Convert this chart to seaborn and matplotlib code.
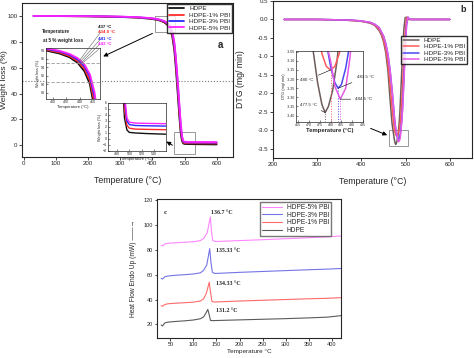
import numpy as np
import matplotlib
matplotlib.use("Agg")
import matplotlib.pyplot as plt
import seaborn as sns
from matplotlib.patches import Rectangle

# ---------------- data ----------------
series_names = ["HDPE", "HDPE-1% PBI", "HDPE-3% PBI", "HDPE-5% PBI"]

# (a) TGA weight loss
tga_temp = [30, 100, 200, 300, 350, 390, 410, 425, 437, 447, 455, 462, 468, 472,
            476, 480, 484, 488, 492, 496, 500, 510, 530, 560, 600]
tga_hdpe = [100, 99.9, 99.7, 99.2, 98.7, 97.9, 97.2, 96.3, 95.0, 93.0, 90.0, 84, 74, 63,
            50, 36, 22, 10, 3.5, 1.5, 1.1, 1.0, 0.9, 0.8, 0.7]
tga_pbi1 = [100, 99.9, 99.75, 99.3, 98.85, 98.1, 97.45, 96.6, 95.4, 93.6, 90.9, 85.5, 76.5, 66,
            53.5, 40, 26, 13, 5, 2.3, 1.8, 1.65, 1.6, 1.55, 1.5]
tga_pbi3 = [100, 99.95, 99.8, 99.4, 99.0, 98.3, 97.7, 96.9, 95.8, 94.2, 91.8, 87, 79, 69,
            57, 44, 30, 16, 6.5, 3.0, 2.4, 2.25, 2.2, 2.15, 2.1]
tga_pbi5 = [100, 99.95, 99.85, 99.5, 99.1, 98.45, 97.85, 97.1, 96.1, 94.6, 92.3, 88, 80.5, 71,
            59.5, 46.5, 32, 18, 7.5, 3.5, 2.8, 2.65, 2.6, 2.55, 2.5]
t5_labels = ["437 °C", "434.8 °C", "441 °C", "443 °C"]

# (b) DTG
dtg_t_hdpe = [225, 300, 350, 380, 400, 420, 430, 440, 445, 450, 455, 460, 465, 469, 472, 474,
              476, 477.5, 479, 481, 483, 485, 487, 490, 493, 496, 499, 502, 505, 510, 600]
dtg_hdpe = [0, 0, -0.01, -0.03, -0.05, -0.1, -0.16, -0.3, -0.42, -0.6, -0.9, -1.4, -2.2, -2.8,
            -3.05, -3.22, -3.34, -3.383, -3.35, -3.26, -3.1, -2.85, -2.5, -1.7, -0.9, -0.25,
            0.05, 0.06, 0.0, 0.0, 0.0]
dtg_t_pbi1 = [225, 300, 350, 380, 400, 420, 430, 440, 445, 450, 455, 460, 465, 470, 474, 476,
              478, 480, 482, 484, 486, 488, 490, 493, 496, 499, 502, 505, 508, 513, 600]
dtg_pbi1 = [0, 0, -0.01, -0.03, -0.05, -0.09, -0.15, -0.27, -0.38, -0.55, -0.8, -1.2, -1.8, -2.5,
            -2.95, -3.06, -3.13, -3.15, -3.13, -3.06, -2.95, -2.75, -2.45, -1.8, -1.0, -0.3,
            0.04, 0.06, 0.0, 0.0, 0.0]
dtg_t_pbi3 = [225, 300, 350, 380, 400, 420, 430, 440, 450, 455, 460, 465, 470, 475, 478, 480,
              482, 483.5, 485, 487, 489, 491, 493, 496, 499, 502, 505, 508, 513, 600]
dtg_pbi3 = [0, 0, -0.01, -0.02, -0.04, -0.08, -0.13, -0.22, -0.45, -0.65, -0.95, -1.4, -2.0,
            -2.7, -3.0, -3.13, -3.22, -3.25, -3.23, -3.14, -3.0, -2.75, -2.4, -1.6, -0.8,
            -0.15, 0.06, 0.02, 0.0, 0.0]
dtg_t_pbi5 = [225, 300, 350, 380, 400, 420, 430, 440, 450, 455, 460, 465, 470, 475, 478, 480,
              482, 484.5, 487, 489, 491, 493, 496, 499, 502, 505, 508, 513, 600]
dtg_pbi5 = [0, 0, -0.01, -0.02, -0.04, -0.08, -0.13, -0.22, -0.45, -0.65, -0.95, -1.4, -2.0,
            -2.7, -3.0, -3.1, -3.24, -3.31, -3.25, -3.08, -2.8, -2.45, -1.7, -0.85, -0.15,
            0.06, 0.02, 0.0, 0.0]
dtg_peak_labels = ["477.5 °C", "480 °C", "483.5 °C", "484.5 °C"]

# (c) DSC
dsc_t_hdpe = [30, 33, 38, 45, 60, 80, 100, 115, 122, 127, 131.2, 134, 137, 142, 160, 200, 250,
              300, 350, 390, 420]
dsc_hdpe = [19.5, 18.7, 21.2, 21.8, 22.3, 22.8, 23.5, 24.5, 26, 29, 32, 28, 23.2, 23.0, 23.2,
            23.6, 24.1, 24.6, 25.2, 25.8, 27.0]
dsc_t_pbi1 = [30, 33, 38, 45, 60, 80, 100, 115, 122, 128, 134.33, 137, 140, 145, 160, 200, 250,
              300, 350, 390, 420]
dsc_pbi1 = [35.0, 34.6, 36.0, 36.6, 37.0, 37.4, 37.9, 38.8, 40.5, 45, 54, 46, 38.5, 38.0, 38.2,
            38.8, 39.4, 40.0, 40.6, 41.0, 41.5]
dsc_t_pbi3 = [30, 33, 38, 45, 60, 80, 100, 115, 122, 129, 135.33, 138, 141, 146, 160, 200, 250,
              300, 350, 390, 420]
dsc_pbi3 = [57.0, 56.5, 58.3, 59.0, 59.5, 60.0, 60.6, 61.5, 63.5, 68, 81, 70, 62, 61.0, 61.2,
            61.9, 62.6, 63.3, 64.0, 64.5, 65.0]
dsc_t_pbi5 = [30, 33, 38, 45, 60, 80, 100, 115, 123, 130, 136.7, 139, 142, 147, 160, 200, 250,
              300, 350, 390, 420]
dsc_pbi5 = [83.8, 83.2, 84.8, 85.3, 85.7, 86.1, 86.6, 87.5, 89.5, 94, 106.5, 95, 87.5, 86.8,
            86.9, 87.5, 88.2, 89.0, 89.8, 90.5, 91.2]
dsc_peak_labels = ["131.2 °C", "134.33 °C", "135.33 °C", "136.7 °C"]

colors_a = ["#111111", "#ff2a2a", "#2a2aff", "#ff22ff"]
colors_b = ["#6e5c5c", "#ff5a5a", "#4a4af0", "#e65ae6"]
colors_c = ["#5a5a5a", "#ff6a6a", "#7474e6", "#ff86ff"]

sns.set_theme(style="ticks")
plt.rcParams["font.family"] = ["Liberation Sans", "DejaVu Sans"]
plt.rcParams["axes.linewidth"] = 0.8

fig = plt.figure(figsize=(4.74, 3.58), dpi=100)
W, H = 474, 358


def box(l, t, r, b):
    return [l / W, 1 - b / H, (r - l) / W, (b - t) / H]


def small(ax, size=2.6):
    ax.tick_params(labelsize=size, length=1.2, width=0.4, pad=0.8, direction="in")
    for s in ax.spines.values():
        s.set_linewidth(0.5)


tga = [tga_hdpe, tga_pbi1, tga_pbi3, tga_pbi5]

# ---------------- panel a ----------------
ax_a = fig.add_axes(box(22, 3, 233, 157))
for name, w, c in zip(series_names, tga, colors_a):
    sns.lineplot(x=tga_temp, y=w, color=c, lw=1.3, ax=ax_a, label=name)
ax_a.axhline(50, color="#777777", ls=":", lw=0.8)
ax_a.set_xlim(-6, 651)
ax_a.set_ylim(-9, 110)
ax_a.set_xticks(range(0, 601, 100))
ax_a.set_yticks(range(0, 101, 20))
ax_a.tick_params(labelsize=4.4, length=2, width=0.6, pad=1.2)
ax_a.set_xlabel("Temperature (°C)", fontsize=6.3)
ax_a.set_ylabel("Weight loss (%)", fontsize=6.0)
ax_a.xaxis.set_label_coords(0.5, -0.125)
ax_a.yaxis.set_label_coords(-0.068, 0.5)
ax_a.legend(loc="upper right", fontsize=4.6, frameon=True, fancybox=False, edgecolor="black",
            handlelength=2.4, borderaxespad=0.15, labelspacing=0.15, borderpad=0.3)
ax_a.text(605, 75, "a", fontsize=7, fontweight="bold")
ax_a.add_patch(Rectangle((408, 87.7), 62, 12.5, fill=False, ec="#888888", lw=0.6))
ax_a.add_patch(Rectangle((467, -6.4), 66, 16.4, fill=False, ec="#888888", lw=0.6))
ax_a.annotate("", xy=(239, 67.8), xytext=(408, 87.4),
              arrowprops=dict(arrowstyle="-|>", color="black", lw=0.7, mutation_scale=6))
ax_a.annotate("", xy=(436, 4), xytext=(470, -1),
              arrowprops=dict(arrowstyle="-|>", color="black", lw=0.7, mutation_scale=6))
ax_a.text(100, 87, "Temperature", fontsize=3.3, ha="center", fontweight="bold")
ax_a.text(123, 80, "at 5 % weight loss", fontsize=3.3, ha="center", fontweight="bold")
ax_a.text(137, 49.5, "Residue formed", fontsize=3.6, ha="center", fontweight="bold")

# inset a1
ax_a1 = fig.add_axes(box(46, 48, 100, 99))
ax_a1.set_facecolor("white")
for w, c in zip(tga, colors_a):
    sns.lineplot(x=tga_temp, y=w, color=c, lw=1.3, ax=ax_a1)
ax_a1.axhline(95, color="#999999", ls="--", lw=0.6, dashes=(4, 2))
ax_a1.axhline(90.4, color="#999999", ls="--", lw=0.6, dashes=(4, 2))
ax_a1.set_xlim(390, 470)
ax_a1.set_ylim(86.5, 98.5)
ax_a1.set_xticks([400, 420, 440, 460])
ax_a1.set_yticks([88, 90, 92, 94, 96, 98])
small(ax_a1)
ax_a1.set_xlabel("Temperature (°C)", fontsize=3, labelpad=0.5)
ax_a1.set_ylabel("Weight loss (%)", fontsize=2.8, labelpad=0.5)
label_y = [91.8, 87.4, 82.3, 78.2]
for lab, w, c, ly in zip(t5_labels, tga, colors_a, label_y):
    t5 = np.interp(95, w[::-1], tga_temp[::-1])
    ax_a1.annotate(lab, xy=(t5, 95), xycoords="data", xytext=(231, ly),
                   textcoords=ax_a.transData, fontsize=3.2, color=c, fontweight="bold",
                   va="center", annotation_clip=False,
                   arrowprops=dict(arrowstyle="-", color="#666666", lw=0.4,
                                   shrinkA=0, shrinkB=0))

# inset a2
ax_a2 = fig.add_axes(box(108, 103, 166, 151))
ax_a2.set_facecolor("white")
for w, c in zip(tga, colors_a):
    sns.lineplot(x=tga_temp, y=w, color=c, lw=1.0, ax=ax_a2)
ax_a2.set_xlim(465, 560)
ax_a2.set_ylim(-2, 6)
ax_a2.set_xticks([480, 500, 520, 540])
ax_a2.set_yticks(range(-2, 7))
small(ax_a2)
ax_a2.set_xlabel("Temperature (°C)", fontsize=3, labelpad=0.5)
ax_a2.set_ylabel("Weight loss (%)", fontsize=2.8, labelpad=0.5)

# ---------------- panel b ----------------
dtg_t = [dtg_t_hdpe, dtg_t_pbi1, dtg_t_pbi3, dtg_t_pbi5]
dtg = [dtg_hdpe, dtg_pbi1, dtg_pbi3, dtg_pbi5]

ax_b = fig.add_axes(box(273, 1, 472, 158))
for name, t, d, c in zip(series_names, dtg_t, dtg, colors_b):
    sns.lineplot(x=t, y=d, color=c, lw=1.1, ax=ax_b, label=name)
ax_b.set_xlim(200, 650)
ax_b.set_ylim(-3.75, 0.5)
ax_b.set_xticks(range(200, 601, 100))
ax_b.set_yticks(np.arange(-3.5, 0.51, 0.5))
ax_b.set_yticklabels([f"{v:.1f}" for v in np.arange(-3.5, 0.51, 0.5)])
ax_b.tick_params(labelsize=4.4, length=2, width=0.6, pad=1.2)
ax_b.set_xlabel("Temperature (°C)", fontsize=6.3)
ax_b.set_ylabel("DTG (mg/ min)", fontsize=6.3)
ax_b.xaxis.set_label_coords(0.5, -0.12)
ax_b.yaxis.set_label_coords(-0.14, 0.5)
ax_b.legend(loc="upper right", bbox_to_anchor=(0.99, 0.80), fontsize=4.6, frameon=True,
            fancybox=False, edgecolor="black", handlelength=2.4, labelspacing=0.15,
            borderpad=0.3)
ax_b.text(624, 0.2, "b", fontsize=6.5, fontweight="bold")
ax_b.add_patch(Rectangle((462, -3.43), 43, 0.43, fill=False, ec="#888888", lw=0.6))
ax_b.annotate("", xy=(464, -3.16), xytext=(415, -2.92),
              arrowprops=dict(arrowstyle="-|>", color="black", lw=0.7, mutation_scale=6))

# inset b
ax_b1 = fig.add_axes(box(296, 51, 363, 122))
ax_b1.set_facecolor("white")
ylo, yhi = -3.435, -3.046
for t, d, c in zip(dtg_t, dtg, colors_b):
    sns.lineplot(x=t, y=d, color=c, lw=1.1, ax=ax_b1)
    k = int(np.argmin(d))
    ax_b1.vlines(t[k], ylo, d[k], colors=c, linestyles=":", lw=0.7)
ax_b1.set_xlim(464, 495)
ax_b1.set_ylim(ylo, yhi)
ax_b1.set_xticks(range(465, 496, 5))
ax_b1.set_yticks(np.arange(-3.40, -3.04, 0.05))
ax_b1.set_yticklabels([f"{v:.2f}" for v in np.arange(-3.40, -3.04, 0.05)])
small(ax_b1, 2.6)
ax_b1.set_xlabel("Temperature (°C)", fontsize=4.2, labelpad=0.8, fontweight="bold")
ax_b1.set_ylabel("DTG (mg/ min)", fontsize=2.8, labelpad=0.5)
text_pos = [(466, -3.34), (466, -3.205), (492, -3.19), (491.5, -3.31)]
for lab, t, d, (tx, ty) in zip(dtg_peak_labels, dtg_t, dtg, text_pos):
    k = int(np.argmin(d))
    ax_b1.annotate(lab, xy=(t[k], d[k]), xytext=(tx, ty), fontsize=3.2,
                   ha="left", va="center", annotation_clip=False,
                   arrowprops=dict(arrowstyle="-", color="black", lw=0.4,
                                   shrinkA=1, shrinkB=0))

# ---------------- panel c ----------------
dsc_t = [dsc_t_hdpe, dsc_t_pbi1, dsc_t_pbi3, dsc_t_pbi5]
dsc = [dsc_hdpe, dsc_pbi1, dsc_pbi3, dsc_pbi5]

ax_c = fig.add_axes(box(157, 199, 341, 338))
for name, t, d, c in zip(series_names, dsc_t, dsc, colors_c):
    sns.lineplot(x=t, y=d, color=c, lw=0.8, ax=ax_c, label=name)
ax_c.set_xlim(21, 420)
ax_c.set_ylim(9, 121)
ax_c.set_xticks(range(50, 401, 50))
ax_c.set_yticks(range(20, 121, 20))
ax_c.tick_params(labelsize=4.0, length=1.8, width=0.6, pad=1.2)
ax_c.set_xlabel("Temperature °C", fontsize=4.6)
ax_c.set_ylabel("Heat Flow Endo Up (mW) ——→", fontsize=4.8)
ax_c.xaxis.set_label_coords(0.5, -0.08)
ax_c.yaxis.set_label_coords(-0.11, 0.5)
handles, labels = ax_c.get_legend_handles_labels()
ax_c.legend(handles[::-1], labels[::-1], loc="upper right", bbox_to_anchor=(0.965, 1.0),
            fontsize=4.8, frameon=True, fancybox=False, edgecolor="#555555",
            handlelength=3.0, labelspacing=0.1, borderpad=0.25)
ax_c.text(35.5, 109, "c", fontsize=5, fontfamily="Liberation Serif", fontweight="bold")
c_text_pos = [(148, 31.3), (148, 52.9), (150, 79.6), (138, 110)]
for lab, (tx, ty) in zip(dsc_peak_labels, c_text_pos):
    ax_c.text(tx, ty, lab, fontsize=4.2, fontfamily="Liberation Serif", fontweight="bold",
              va="center")

fig.savefig("out.png", dpi=100, facecolor="white")
